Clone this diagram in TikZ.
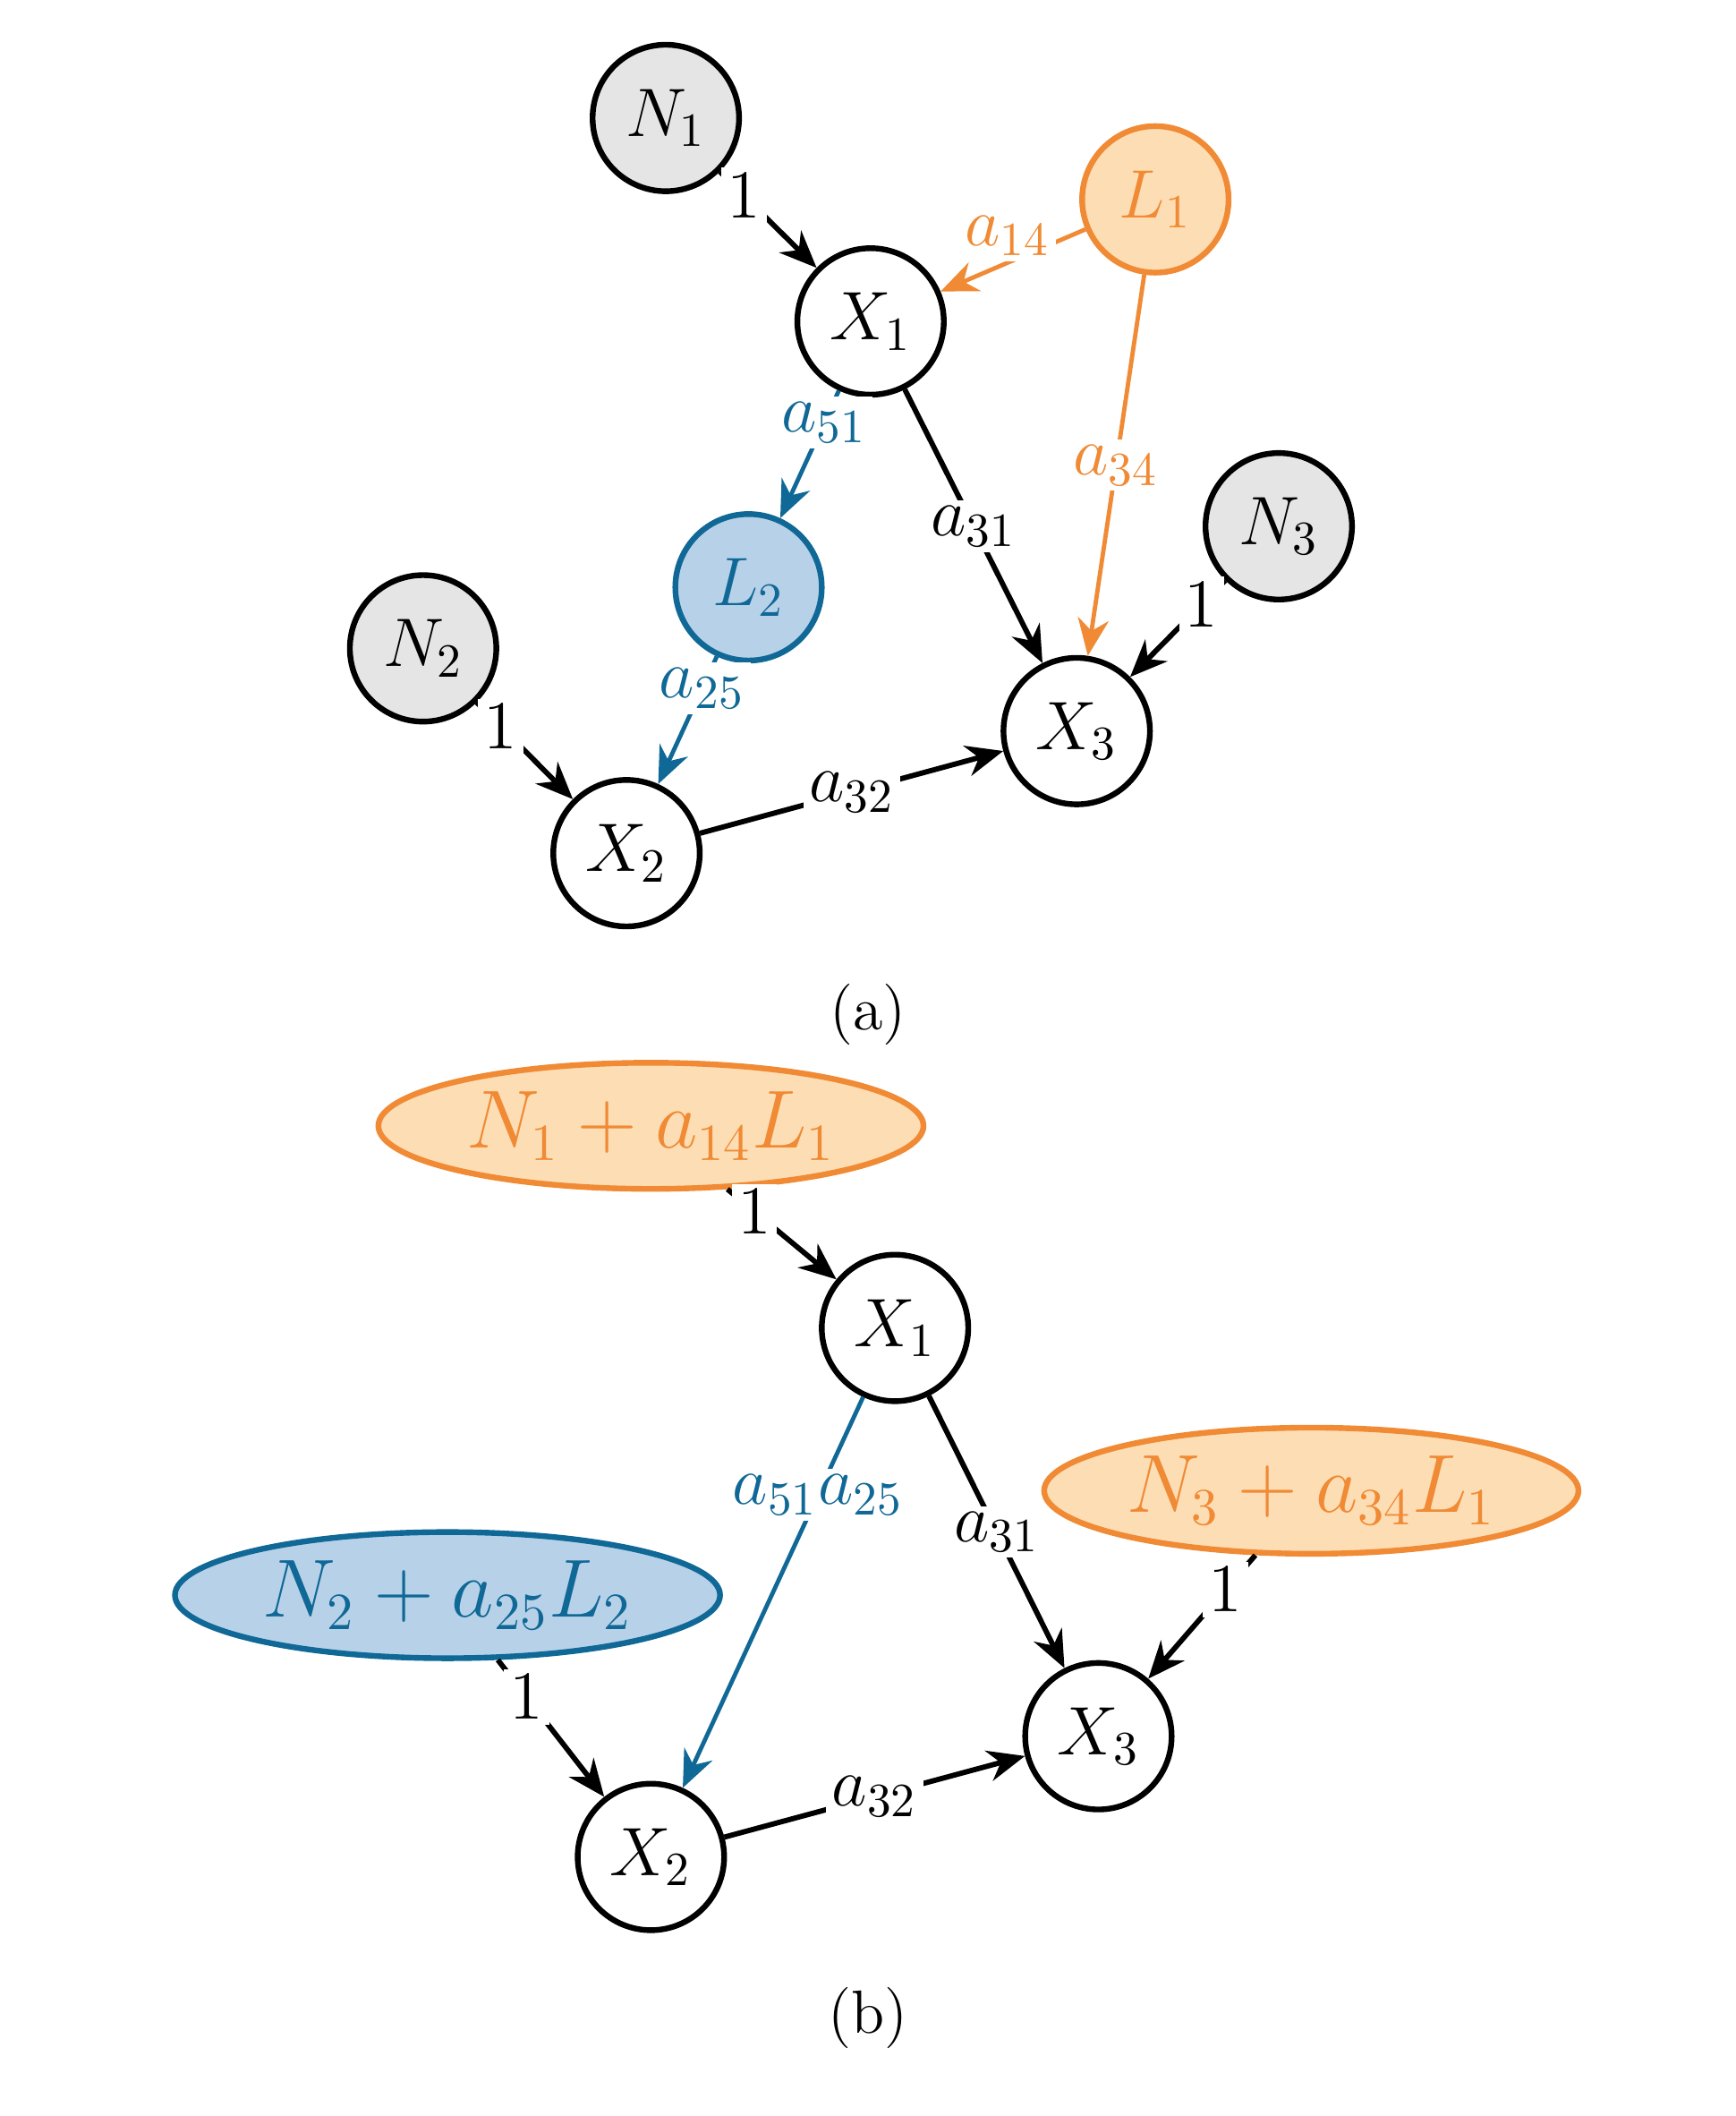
\documentclass[tikz,border=0pt]{standalone}
\usepackage{amsmath}
\usepackage{amssymb}
\usepackage{tikz}
\usetikzlibrary{arrows.meta,shapes.geometric}

\definecolor{lorange}{RGB}{240,138,52}
\definecolor{lorangefill}{RGB}{253,221,180}
\definecolor{lblue}{RGB}{16,104,150}
\definecolor{lbluefill}{RGB}{183,210,232}
\definecolor{ngray}{RGB}{229,229,229}

\begin{document}
\begin{tikzpicture}[scale = 1, font=\Large,
    var/.style={circle,draw=black,line width=1.2pt,minimum size=1.08cm,inner sep=0pt},
    noise/.style={var,fill=ngray},
    latone/.style={var,draw=lorange,fill=lorangefill,text=lorange},
    lattwo/.style={var,draw=lblue,fill=lbluefill,text=lblue},
    ell/.style={ellipse,line width=1.2pt,minimum width=4.02cm,minimum height=0.93cm,inner sep=0pt,font=\fontsize{16.2}{19}\selectfont},
    edge/.style={-{Stealth[length=7.8pt,width=6.5pt]},line width=1.1pt},
    lbl/.style={fill=white,inner sep=1.2pt}]
          \useasboundingbox (0,0) rectangle (12.8,-15.6);

          % (a)
          \node[noise] (N1) at (4.91,-0.87) {$N_1$};
          \node[latone] (L1) at (8.52,-1.47) {$L_1$};
          \node[var] (X1) at (6.42,-2.37) {$X_1$};
          \node[noise] (N3) at (9.43,-3.88) {$N_3$};
          \node[lattwo] (L2) at (5.52,-4.33) {$L_2$};
          \node[noise] (N2) at (3.12,-4.78) {$N_2$};
          \node[var] (X3) at (7.94,-5.39) {$X_3$};
          \node[var] (X2) at (4.62,-6.29) {$X_2$};

          \draw[edge] (N1) -- node[lbl,pos=0.25] {$1$} (X1);
          \draw[edge,lorange,line width=0.9pt] (L1) -- node[lbl,pos=0.5,xshift=-0.04cm,yshift=0.18cm] {$a_{14}$} (X1);
          \draw[edge,lblue,line width=0.9pt] (X1) -- node[lbl,pos=0.25] {$a_{51}$} (L2);
          \draw[edge,lblue,line width=0.9pt] (L2) -- node[lbl,pos=0.25] {$a_{25}$} (X2);
          \draw[edge] (X1) -- node[lbl,pos=0.5] {$a_{31}$} (X3);
          \draw[edge,lorange,line width=0.9pt] (L1) -- node[lbl,pos=0.5] {$a_{34}$} (X3);
          \draw[edge] (N3) -- node[lbl,pos=0.25] {$1$} (X3);
          \draw[edge] (N2) -- node[lbl,pos=0.25] {$1$} (X2);
          \draw[edge] (X2) -- node[lbl,pos=0.5] {$a_{32}$} (X3);

          \node[font=\fontsize{12.8}{15}\selectfont] (capa) at (6.40,-7.48) {(a)};

          % (b)
          \node[ell,draw=lorange,fill=lorangefill,text=lorange] (E1) at (4.80,-8.30) {$N_1+a_{14}L_1$};
          \node[var] (Y1) at (6.60,-9.79) {$X_1$};
          \node[ell,draw=lorange,fill=lorangefill,text=lorange,minimum width=3.94cm] (E3) at (9.67,-10.99) {$N_3+a_{34}L_1$};
          \node[ell,draw=lblue,fill=lbluefill,text=lblue] (E2) at (3.30,-11.76) {$N_2+a_{25}L_2$};
          \node[var] (Y3) at (8.10,-12.80) {$X_3$};
          \node[var] (Y2) at (4.80,-13.69) {$X_2$};

          \draw[edge] (E1) -- node[lbl,pos=0.25] {$1$} (Y1);
          \draw[edge,lblue,line width=0.9pt] (Y1) -- node[lbl,pos=0.25] {$a_{51}a_{25}$} (Y2);
          \draw[edge] (Y1) -- node[lbl,pos=0.5] {$a_{31}$} (Y3);
          \draw[edge] (E3) -- node[lbl,pos=0.28] {$1$} (Y3);
          \draw[edge] (E2) -- node[lbl,pos=0.27] {$1$} (Y2);
          \draw[edge] (Y2) -- node[lbl,pos=0.5] {$a_{32}$} (Y3);

          \node[font=\fontsize{12.8}{15}\selectfont] (capb) at (6.40,-14.88) {(b)};
        \end{tikzpicture}
\end{document}
